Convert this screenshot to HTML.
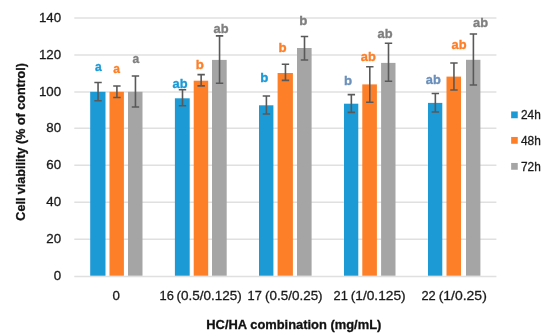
<!DOCTYPE html>
<html><head><meta charset="utf-8"><title>Cell viability chart</title>
<style>html,body{margin:0;padding:0;background:#fff}svg{display:block}text{font-family:"Liberation Sans",sans-serif}.r{stroke:#1a1a1a;stroke-width:.3px}.t{stroke:#111;stroke-width:.3px}.l{stroke-width:.35px}</style></head><body>
<svg width="550" height="336" viewBox="0 0 550 336">
<rect width="550" height="336" fill="#fff"/>
<line x1="74.3" x2="496.4" y1="276.40" y2="276.40" stroke="#e0e0e0" stroke-width="1.5"/>
<text class="r" x="61.1" y="280.40" font-size="13.3" text-anchor="end" fill="#1a1a1a">0</text>
<line x1="74.3" x2="496.4" y1="239.20" y2="239.20" stroke="#e0e0e0" stroke-width="1.5"/>
<text class="r" x="61.1" y="243.20" font-size="13.3" text-anchor="end" fill="#1a1a1a">20</text>
<line x1="74.3" x2="496.4" y1="202.30" y2="202.30" stroke="#e0e0e0" stroke-width="1.5"/>
<text class="r" x="61.1" y="206.30" font-size="13.3" text-anchor="end" fill="#1a1a1a">40</text>
<line x1="74.3" x2="496.4" y1="165.30" y2="165.30" stroke="#e0e0e0" stroke-width="1.5"/>
<text class="r" x="61.1" y="169.30" font-size="13.3" text-anchor="end" fill="#1a1a1a">60</text>
<line x1="74.3" x2="496.4" y1="128.30" y2="128.30" stroke="#e0e0e0" stroke-width="1.5"/>
<text class="r" x="61.1" y="132.30" font-size="13.3" text-anchor="end" fill="#1a1a1a">80</text>
<line x1="74.3" x2="496.4" y1="91.95" y2="91.95" stroke="#e0e0e0" stroke-width="1.5"/>
<text class="r" x="61.1" y="95.95" font-size="13.3" text-anchor="end" fill="#1a1a1a">100</text>
<line x1="74.3" x2="496.4" y1="54.90" y2="54.90" stroke="#e0e0e0" stroke-width="1.5"/>
<text class="r" x="61.1" y="58.90" font-size="13.3" text-anchor="end" fill="#1a1a1a">120</text>
<line x1="74.3" x2="496.4" y1="18.10" y2="18.10" stroke="#e0e0e0" stroke-width="1.5"/>
<text class="r" x="61.1" y="22.10" font-size="13.3" text-anchor="end" fill="#1a1a1a">140</text>
<rect x="90.2" y="91.8" width="15.30" height="183.90" fill="#1c9ad6"/>
<rect x="109.5" y="91.8" width="14.40" height="183.90" fill="#fd7f27"/>
<rect x="128.0" y="91.8" width="14.50" height="183.90" fill="#a5a5a5"/>
<path d="M98.05 82.50V100.70M94.35 82.50h7.4M94.35 100.70h7.4" stroke="#595959" stroke-width="1.6" fill="none"/>
<path d="M116.90 86.00V97.50M113.20 86.00h7.4M113.20 97.50h7.4" stroke="#595959" stroke-width="1.6" fill="none"/>
<path d="M135.45 76.00V107.00M131.75 76.00h7.4M131.75 107.00h7.4" stroke="#595959" stroke-width="1.6" fill="none"/>
<text class="r" x="116.3" y="300" font-size="13.3" text-anchor="middle" fill="#1a1a1a">0</text>
<rect x="174.9" y="98.3" width="14.80" height="177.40" fill="#1c9ad6"/>
<rect x="193.7" y="80.7" width="14.50" height="195.00" fill="#fd7f27"/>
<rect x="212.0" y="59.9" width="14.70" height="215.80" fill="#a5a5a5"/>
<path d="M182.50 89.80V105.80M178.80 89.80h7.4M178.80 105.80h7.4" stroke="#595959" stroke-width="1.6" fill="none"/>
<path d="M201.15 74.60V85.90M197.45 74.60h7.4M197.45 85.90h7.4" stroke="#595959" stroke-width="1.6" fill="none"/>
<path d="M219.55 35.90V83.20M215.85 35.90h7.4M215.85 83.20h7.4" stroke="#595959" stroke-width="1.6" fill="none"/>
<text class="r" y="300" font-size="13.3" fill="#1a1a1a"><tspan x="159.5" textLength="14.3" lengthAdjust="spacingAndGlyphs">16</tspan> <tspan x="176.6" textLength="65.2" lengthAdjust="spacingAndGlyphs">(0.5/0.125)</tspan></text>
<rect x="259.0" y="105.3" width="14.40" height="170.40" fill="#1c9ad6"/>
<rect x="277.6" y="73.0" width="15.30" height="202.70" fill="#fd7f27"/>
<rect x="297.0" y="48.0" width="14.60" height="227.70" fill="#a5a5a5"/>
<path d="M266.40 96.00V114.00M262.70 96.00h7.4M262.70 114.00h7.4" stroke="#595959" stroke-width="1.6" fill="none"/>
<path d="M285.45 64.30V80.40M281.75 64.30h7.4M281.75 80.40h7.4" stroke="#595959" stroke-width="1.6" fill="none"/>
<path d="M304.50 36.50V60.00M300.80 36.50h7.4M300.80 60.00h7.4" stroke="#595959" stroke-width="1.6" fill="none"/>
<text class="r" y="300" font-size="13.3" fill="#1a1a1a"><tspan x="247.5" textLength="14.3" lengthAdjust="spacingAndGlyphs">17</tspan> <tspan x="265.0" textLength="57.6" lengthAdjust="spacingAndGlyphs">(0.5/0.25)</tspan></text>
<rect x="344.0" y="103.7" width="14.30" height="172.00" fill="#1c9ad6"/>
<rect x="362.3" y="84.4" width="14.60" height="191.30" fill="#fd7f27"/>
<rect x="381.1" y="62.9" width="14.40" height="212.80" fill="#a5a5a5"/>
<path d="M351.35 94.60V112.40M347.65 94.60h7.4M347.65 112.40h7.4" stroke="#595959" stroke-width="1.6" fill="none"/>
<path d="M369.80 66.70V102.20M366.10 66.70h7.4M366.10 102.20h7.4" stroke="#595959" stroke-width="1.6" fill="none"/>
<path d="M388.50 43.20V81.20M384.80 43.20h7.4M384.80 81.20h7.4" stroke="#595959" stroke-width="1.6" fill="none"/>
<text class="r" y="300" font-size="13.3" fill="#1a1a1a"><tspan x="333.5" textLength="14.3" lengthAdjust="spacingAndGlyphs">21</tspan> <tspan x="350.7" textLength="55.0" lengthAdjust="spacingAndGlyphs">(1/0.125)</tspan></text>
<rect x="428.0" y="102.9" width="14.30" height="172.80" fill="#1c9ad6"/>
<rect x="446.5" y="76.6" width="14.50" height="199.10" fill="#fd7f27"/>
<rect x="466.0" y="59.8" width="14.40" height="215.90" fill="#a5a5a5"/>
<path d="M435.35 93.50V112.00M431.65 93.50h7.4M431.65 112.00h7.4" stroke="#595959" stroke-width="1.6" fill="none"/>
<path d="M453.95 63.00V90.00M450.25 63.00h7.4M450.25 90.00h7.4" stroke="#595959" stroke-width="1.6" fill="none"/>
<path d="M473.40 34.00V85.00M469.70 34.00h7.4M469.70 85.00h7.4" stroke="#595959" stroke-width="1.6" fill="none"/>
<text class="r" y="300" font-size="13.3" fill="#1a1a1a"><tspan x="421.4" textLength="14.3" lengthAdjust="spacingAndGlyphs">22</tspan> <tspan x="438.7" textLength="48.1" lengthAdjust="spacingAndGlyphs">(1/0.25)</tspan></text>
<text x="98.3" y="71" font-size="13.6" font-weight="bold" text-anchor="middle" textLength="6.7" lengthAdjust="spacingAndGlyphs" fill="#1c9ad6" stroke="#1c9ad6" class="l">a</text>
<text x="116.7" y="72.8" font-size="13.6" font-weight="bold" text-anchor="middle" textLength="6.7" lengthAdjust="spacingAndGlyphs" fill="#fd7f27" stroke="#fd7f27" class="l">a</text>
<text x="135.8" y="62.9" font-size="13.6" font-weight="bold" text-anchor="middle" textLength="6.7" lengthAdjust="spacingAndGlyphs" fill="#7f7f7f" stroke="#7f7f7f" class="l">a</text>
<text x="180" y="87.6" font-size="13.6" font-weight="bold" text-anchor="middle" textLength="15.0" lengthAdjust="spacingAndGlyphs" fill="#1c9ad6" stroke="#1c9ad6" class="l">ab</text>
<text x="199.9" y="68.9" font-size="13.6" font-weight="bold" text-anchor="middle" textLength="8.1" lengthAdjust="spacingAndGlyphs" fill="#fd7f27" stroke="#fd7f27" class="l">b</text>
<text x="221" y="33.0" font-size="13.6" font-weight="bold" text-anchor="middle" textLength="15.0" lengthAdjust="spacingAndGlyphs" fill="#7f7f7f" stroke="#7f7f7f" class="l">ab</text>
<text x="264.3" y="82.1" font-size="13.6" font-weight="bold" text-anchor="middle" textLength="8.1" lengthAdjust="spacingAndGlyphs" fill="#1c9ad6" stroke="#1c9ad6" class="l">b</text>
<text x="282.5" y="51.6" font-size="13.6" font-weight="bold" text-anchor="middle" textLength="8.1" lengthAdjust="spacingAndGlyphs" fill="#fd7f27" stroke="#fd7f27" class="l">b</text>
<text x="303.3" y="25.1" font-size="13.6" font-weight="bold" text-anchor="middle" textLength="8.1" lengthAdjust="spacingAndGlyphs" fill="#7f7f7f" stroke="#7f7f7f" class="l">b</text>
<text x="348" y="84.9" font-size="13.6" font-weight="bold" text-anchor="middle" textLength="8.1" lengthAdjust="spacingAndGlyphs" fill="#6a90bb" stroke="#6a90bb" class="l">b</text>
<text x="368.3" y="61" font-size="13.6" font-weight="bold" text-anchor="middle" textLength="15.0" lengthAdjust="spacingAndGlyphs" fill="#fd7f27" stroke="#fd7f27" class="l">ab</text>
<text x="385" y="38" font-size="13.6" font-weight="bold" text-anchor="middle" textLength="15.0" lengthAdjust="spacingAndGlyphs" fill="#7f7f7f" stroke="#7f7f7f" class="l">ab</text>
<text x="433.3" y="84.3" font-size="13.6" font-weight="bold" text-anchor="middle" textLength="15.0" lengthAdjust="spacingAndGlyphs" fill="#6a90bb" stroke="#6a90bb" class="l">ab</text>
<text x="459" y="49" font-size="13.6" font-weight="bold" text-anchor="middle" textLength="15.0" lengthAdjust="spacingAndGlyphs" fill="#fd7f27" stroke="#fd7f27" class="l">ab</text>
<text x="480.5" y="26.6" font-size="13.6" font-weight="bold" text-anchor="middle" textLength="15.0" lengthAdjust="spacingAndGlyphs" fill="#7f7f7f" stroke="#7f7f7f" class="l">ab</text>
<text class="t" x="293.8" y="329.3" font-size="13" font-weight="bold" text-anchor="middle" textLength="175" lengthAdjust="spacingAndGlyphs" fill="#111">HC/HA combination (mg/mL)</text>
<text class="t" transform="translate(24.9 141.85) rotate(-90)" font-size="13" font-weight="bold" text-anchor="middle" textLength="157.6" lengthAdjust="spacingAndGlyphs" fill="#111">Cell viability (% of control)</text>
<rect x="511.15" y="111.45" width="6.6" height="6.8" fill="#1c9ad6"/>
<text class="r" x="521" y="119.15" font-size="13" textLength="19.8" lengthAdjust="spacingAndGlyphs" fill="#1a1a1a">24h</text>
<rect x="511.15" y="136.95" width="6.6" height="6.8" fill="#fd7f27"/>
<text class="r" x="521" y="144.65" font-size="13" textLength="19.8" lengthAdjust="spacingAndGlyphs" fill="#1a1a1a">48h</text>
<rect x="511.15" y="162.95" width="6.6" height="6.8" fill="#a5a5a5"/>
<text class="r" x="521" y="170.65" font-size="13" textLength="19.8" lengthAdjust="spacingAndGlyphs" fill="#1a1a1a">72h</text>
</svg></body></html>
